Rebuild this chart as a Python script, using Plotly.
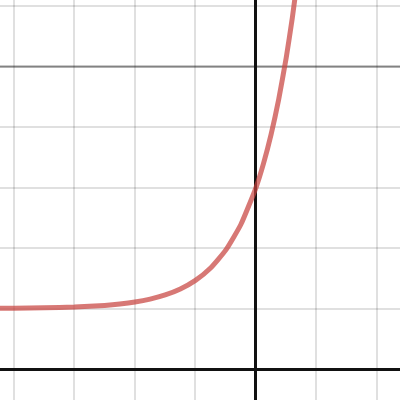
import plotly.graph_objects as go

# puntos (x, y)
x_vals = [-4.25, -4.0, -3.5, -3.0, -2.5, -2.25, -2.0, -1.75, -1.5, -1.25, -1.0, -0.75, -0.5,
          -0.25, 0.0, 0.125, 0.25, 0.375, 0.5, 0.6, 0.7]
y_vals = [1.004, 1.006, 1.012, 1.025, 1.052, 1.075, 1.108, 1.156, 1.224, 1.323, 1.465, 1.67, 1.965,
          2.389, 3.0, 3.40, 3.88, 4.456, 5.147, 5.80, 6.55]

# linea mayor de la cuadricula
major_y = [5]

fig = go.Figure()
fig.add_trace(go.Scatter(
    x=x_vals, y=y_vals, mode="lines",
    line=dict(color="rgba(199,68,64,0.72)", width=5, shape="spline", smoothing=0.5),
    hoverinfo="skip",
))

for yv in major_y:
    fig.add_hline(y=yv, line=dict(color="rgba(0,0,0,0.42)", width=2), layer="below")

fig.update_xaxes(
    range=[-4.23, 2.38], dtick=1, tick0=0, showticklabels=False,
    gridcolor="rgba(0,0,0,0.12)", gridwidth=2,
    zeroline=True, zerolinecolor="#111111", zerolinewidth=3,
    showline=False, fixedrange=True,
)
fig.update_yaxes(
    range=[-0.512, 6.1], dtick=1, tick0=0, showticklabels=False,
    gridcolor="rgba(0,0,0,0.12)", gridwidth=2,
    zeroline=True, zerolinecolor="#111111", zerolinewidth=3,
    showline=False, fixedrange=True,
)
fig.update_layout(
    width=400, height=400,
    margin=dict(l=0, r=0, t=0, b=0),
    paper_bgcolor="white", plot_bgcolor="white",
    showlegend=False,
)
fig.write_html("out.html", config={"displayModeBar": False},
               post_script="document.body.style.margin='0';")
